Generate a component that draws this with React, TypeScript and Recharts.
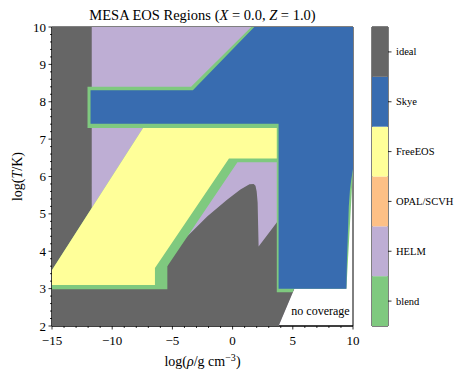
import React from 'react';
import {
  ComposedChart,
  Scatter,
  XAxis,
  YAxis,
  Label,
  ReferenceArea,
  ReferenceDot,
  BarChart,
  Bar,
} from 'recharts';

const FONT = '"Liberation Serif", "DejaVu Serif", serif';

// Accent-style colours used by the EOS map
const IDEAL = '#666666';
const SKYE = '#386cb0';
const FREEEOS = '#ffff99';
const OPAL = '#fdc086';
const HELM = '#beaed4';
const BLEND = '#7fc97f';

// axis ticks
const xMajor = [-15, -10, -5, 0, 5, 10];
const xMinor = [-14, -13, -12, -11, -9, -8, -7, -6, -4, -3, -2, -1, 1, 2, 3, 4, 6, 7, 8, 9];
const yMajor = [2, 3, 4, 5, 6, 7, 8, 9, 10];
const yMinor = [
  2.2, 2.4, 2.6, 2.8, 3.2, 3.4, 3.6, 3.8, 4.2, 4.4, 4.6, 4.8, 5.2, 5.4, 5.6, 5.8,
  6.2, 6.4, 6.6, 6.8, 7.2, 7.4, 7.6, 7.8, 8.2, 8.4, 8.6, 8.8, 9.2, 9.4, 9.6, 9.8,
];

// region outlines, [log rho, log T]
const helmRegion = [
  [-15, 2], [3.82, 2], [5.11, 3.0], [9.45, 3.0], [9.5, 3.8], [9.6, 4.7], [9.65, 5.2],
  [9.75, 5.65], [9.85, 5.9], [10, 6.2], [10, 10], [-15, 10],
];
const idealRegion = [
  [-15, 2], [3.82, 2], [5.2, 3.05], [5.2, 4.9], [3.7, 4.78], [2.16, 4.13], [2.12, 4.7],
  [2.08, 5.3], [2.0, 5.6], [1.9, 5.75], [1.75, 5.8], [1.4, 5.79], [0.65, 5.65],
  [-0.46, 5.38], [-2.11, 4.93], [-4.05, 4.31], [-5.29, 3.77], [-5.45, 3.6],
  [-11.7, 3.6], [-11.7, 10], [-15, 10],
];
const freeBlendRegion = [
  [-15, 2.98], [-5.42, 2.98], [-5.42, 3.6], [0.4, 6.38], [3.75, 6.38], [3.75, 7.32],
  [-7.4, 7.32], [-15, 3.5],
];
const freeRegion = [
  [-15, 3.1], [-6.45, 3.1], [-6.45, 3.55], [-0.3, 6.48], [3.7, 6.48], [3.7, 7.32],
  [-7.4, 7.32], [-15, 3.5],
];
const skyeBlendRegion = [
  [-12.05, 8.4], [-3.45, 8.4], [1.55, 10], [10, 10], [10, 6.2], [9.45, 3.0], [5.11, 3.0],
  [4.98, 2.9], [3.67, 2.9], [3.67, 7.3], [-12.05, 7.3],
];
const skyeRegion = [
  [-11.8, 8.31], [-3.3, 8.31], [1.8, 10], [10, 10], [10, 6.2], [9.85, 5.9], [9.75, 5.65],
  [9.65, 5.2], [9.6, 4.7], [9.5, 3.8], [9.45, 3.0], [3.82, 3.0], [3.82, 7.41],
  [-11.8, 7.41],
];

// colour bar
const cbLabels = ['blend', 'HELM', 'OPAL/SCVH', 'FreeEOS', 'Skye', 'ideal'];
const cbColors = [BLEND, HELM, OPAL, FREEEOS, SKYE, IDEAL];
const cbSpan = [1, 1, 1, 1, 1, 1];
const cbTicks = [0.5, 1.5, 2.5, 3.5, 4.5, 5.5];

const layers = [
  { name: 'HELM', pts: helmRegion, fill: HELM },
  { name: 'ideal', pts: idealRegion, fill: IDEAL },
  { name: 'FreeEOS blend', pts: freeBlendRegion, fill: BLEND },
  { name: 'FreeEOS', pts: freeRegion, fill: FREEEOS },
  { name: 'Skye blend', pts: skyeBlendRegion, fill: BLEND },
  { name: 'Skye', pts: skyeRegion, fill: SKYE },
];

const toPoints = (arr: number[][]) => arr.map(([x, y]) => ({ x, y }));

const fmt = (v: number) => (v < 0 ? `\u2212${-v}` : `${v}`);

const textStyle = { fontFamily: FONT };

const polygon = (fill: string) => (props: any) => {
  const pts = (props.points || []) as { x: number; y: number }[];
  const d = pts.map((p, i) => `${i ? 'L' : 'M'}${p.x},${p.y}`).join('') + 'Z';
  return <path d={d} fill={fill} stroke="none" />;
};

const NoShape = () => <g />;

const XTick = (props: any) => {
  const { x, y, payload } = props;
  const major = xMajor.includes(payload.value);
  return (
    <g>
      <line x1={x} x2={x} y1={y} y2={y + (major ? 3.5 : 2)} stroke="#000" strokeWidth={0.8} />
      {major && (
        <text x={x} y={y + 18.5} textAnchor="middle" style={textStyle} fontSize={13} fill="#000">
          {fmt(payload.value)}
        </text>
      )}
    </g>
  );
};

const YTick = (props: any) => {
  const { x, y, payload } = props;
  const major = yMajor.includes(payload.value);
  return (
    <g>
      <line x1={x} x2={x - (major ? 3.5 : 2)} y1={y} y2={y} stroke="#000" strokeWidth={0.8} />
      {major && (
        <text x={x - 6} y={y + 4.5} textAnchor="end" style={textStyle} fontSize={13} fill="#000">
          {fmt(payload.value)}
        </text>
      )}
    </g>
  );
};

const CbTick = (props: any) => {
  const { x, y, payload } = props;
  return (
    <g>
      <line x1={x} x2={x + 3.5} y1={y} y2={y} stroke="#000" strokeWidth={0.8} />
      <text x={x + 8} y={y + 3.5} style={textStyle} fontSize={10.5} fill="#000">
        {cbLabels[Math.floor(payload.value)]}
      </text>
    </g>
  );
};

const App: React.FC = () => {
  const cbRow: Record<string, any> = { name: 'eos' };
  cbLabels.forEach((l, i) => {
    cbRow[l] = cbSpan[i];
  });

  return (
    <div style={{ position: 'fixed', left: 0, top: 0, width: 474, height: 377, background: '#fff' }}>
      <div
        style={{
          position: 'absolute',
          left: 52,
          top: 7,
          width: 301,
          textAlign: 'center',
          fontFamily: FONT,
          fontSize: 14.5,
          lineHeight: '17px',
          color: '#000',
          whiteSpace: 'nowrap',
        }}
      >
        MESA EOS Regions (<i>X</i> = 0.0, <i>Z</i> = 1.0)
      </div>

      <div style={{ position: 'absolute', left: 0, top: 0 }}>
        <ComposedChart width={474} height={377} margin={{ top: 27, right: 121, bottom: 21, left: 12 }}>
          {layers.map((l) => (
            <Scatter
              key={l.name}
              name={l.name}
              data={toPoints(l.pts)}
              line={polygon(l.fill)}
              lineType="joint"
              shape={NoShape}
              legendType="none"
              isAnimationActive={false}
            />
          ))}
          <ReferenceDot
            x={7.3}
            y={2.4}
            r={0}
            fill="none"
            stroke="none"
            label={(p: any) => {
              const vb = p.viewBox || {};
              const cx = (vb.x ?? 0) + (vb.width ?? 0) / 2;
              const cy = (vb.y ?? 0) + (vb.height ?? 0) / 2;
              return (
                <text x={cx} y={cy + 4} textAnchor="middle" style={textStyle} fontSize={12} fill="#000">
                  no coverage
                </text>
              );
            }}
          />
          <ReferenceArea x1={-15} x2={10} y1={2} y2={10} fill="none" stroke="#000" strokeWidth={1} />
          <XAxis
            type="number"
            dataKey="x"
            domain={[-15, 10]}
            ticks={[...xMajor, ...xMinor].sort((a, b) => a - b)}
            interval={0}
            allowDataOverflow
            height={30}
            tickSize={0}
            tickMargin={0}
            tickLine={false}
            tick={<XTick />}
            stroke="#000"
          >
            <Label
              content={(p: any) => {
                const vb = p.viewBox || { x: 52, y: 326, width: 301 };
                return (
                  <text
                    x={vb.x + vb.width / 2}
                    y={vb.y + 40}
                    textAnchor="middle"
                    style={textStyle}
                    fontSize={14}
                    fill="#000"
                  >
                    log(<tspan fontStyle="italic">ρ</tspan>/g cm
                    <tspan dy={-5} fontSize={10}>−3</tspan>
                    <tspan dy={5}>)</tspan>
                  </text>
                );
              }}
            />
          </XAxis>
          <YAxis
            type="number"
            dataKey="y"
            domain={[2, 10]}
            ticks={[...yMajor, ...yMinor].sort((a, b) => a - b)}
            interval={0}
            allowDataOverflow
            width={40}
            tickSize={0}
            tickMargin={0}
            tickLine={false}
            tick={<YTick />}
            stroke="#000"
          >
            <Label
              content={(p: any) => {
                const vb = p.viewBox || { x: 12, y: 27, height: 299 };
                const cx = 17;
                const cy = vb.y + vb.height / 2;
                return (
                  <text
                    x={cx}
                    y={cy}
                    transform={`rotate(-90, ${cx}, ${cy})`}
                    textAnchor="middle"
                    dominantBaseline="central"
                    style={textStyle}
                    fontSize={14}
                    fill="#000"
                  >
                    log(<tspan fontStyle="italic">T</tspan>/K)
                  </text>
                );
              }}
            />
          </YAxis>
        </ComposedChart>
      </div>

      <div style={{ position: 'absolute', left: 362, top: 0 }}>
        <BarChart
          width={110}
          height={377}
          data={[cbRow]}
          margin={{ top: 27, right: 0, bottom: 51, left: 10 }}
          barCategoryGap={0}
        >
          <XAxis dataKey="name" hide />
          <YAxis
            orientation="right"
            type="number"
            domain={[0, 6]}
            ticks={cbTicks}
            interval={0}
            width={84}
            tickSize={0}
            tickMargin={0}
            tickLine={false}
            axisLine={false}
            tick={<CbTick />}
          />
          {cbLabels.map((l, i) => (
            <Bar key={l} dataKey={l} stackId="cb" fill={cbColors[i]} isAnimationActive={false} />
          ))}
          <ReferenceArea y1={0} y2={6} fill="none" stroke="#000" strokeWidth={1} />
        </BarChart>
      </div>
    </div>
  );
};

export default App;
